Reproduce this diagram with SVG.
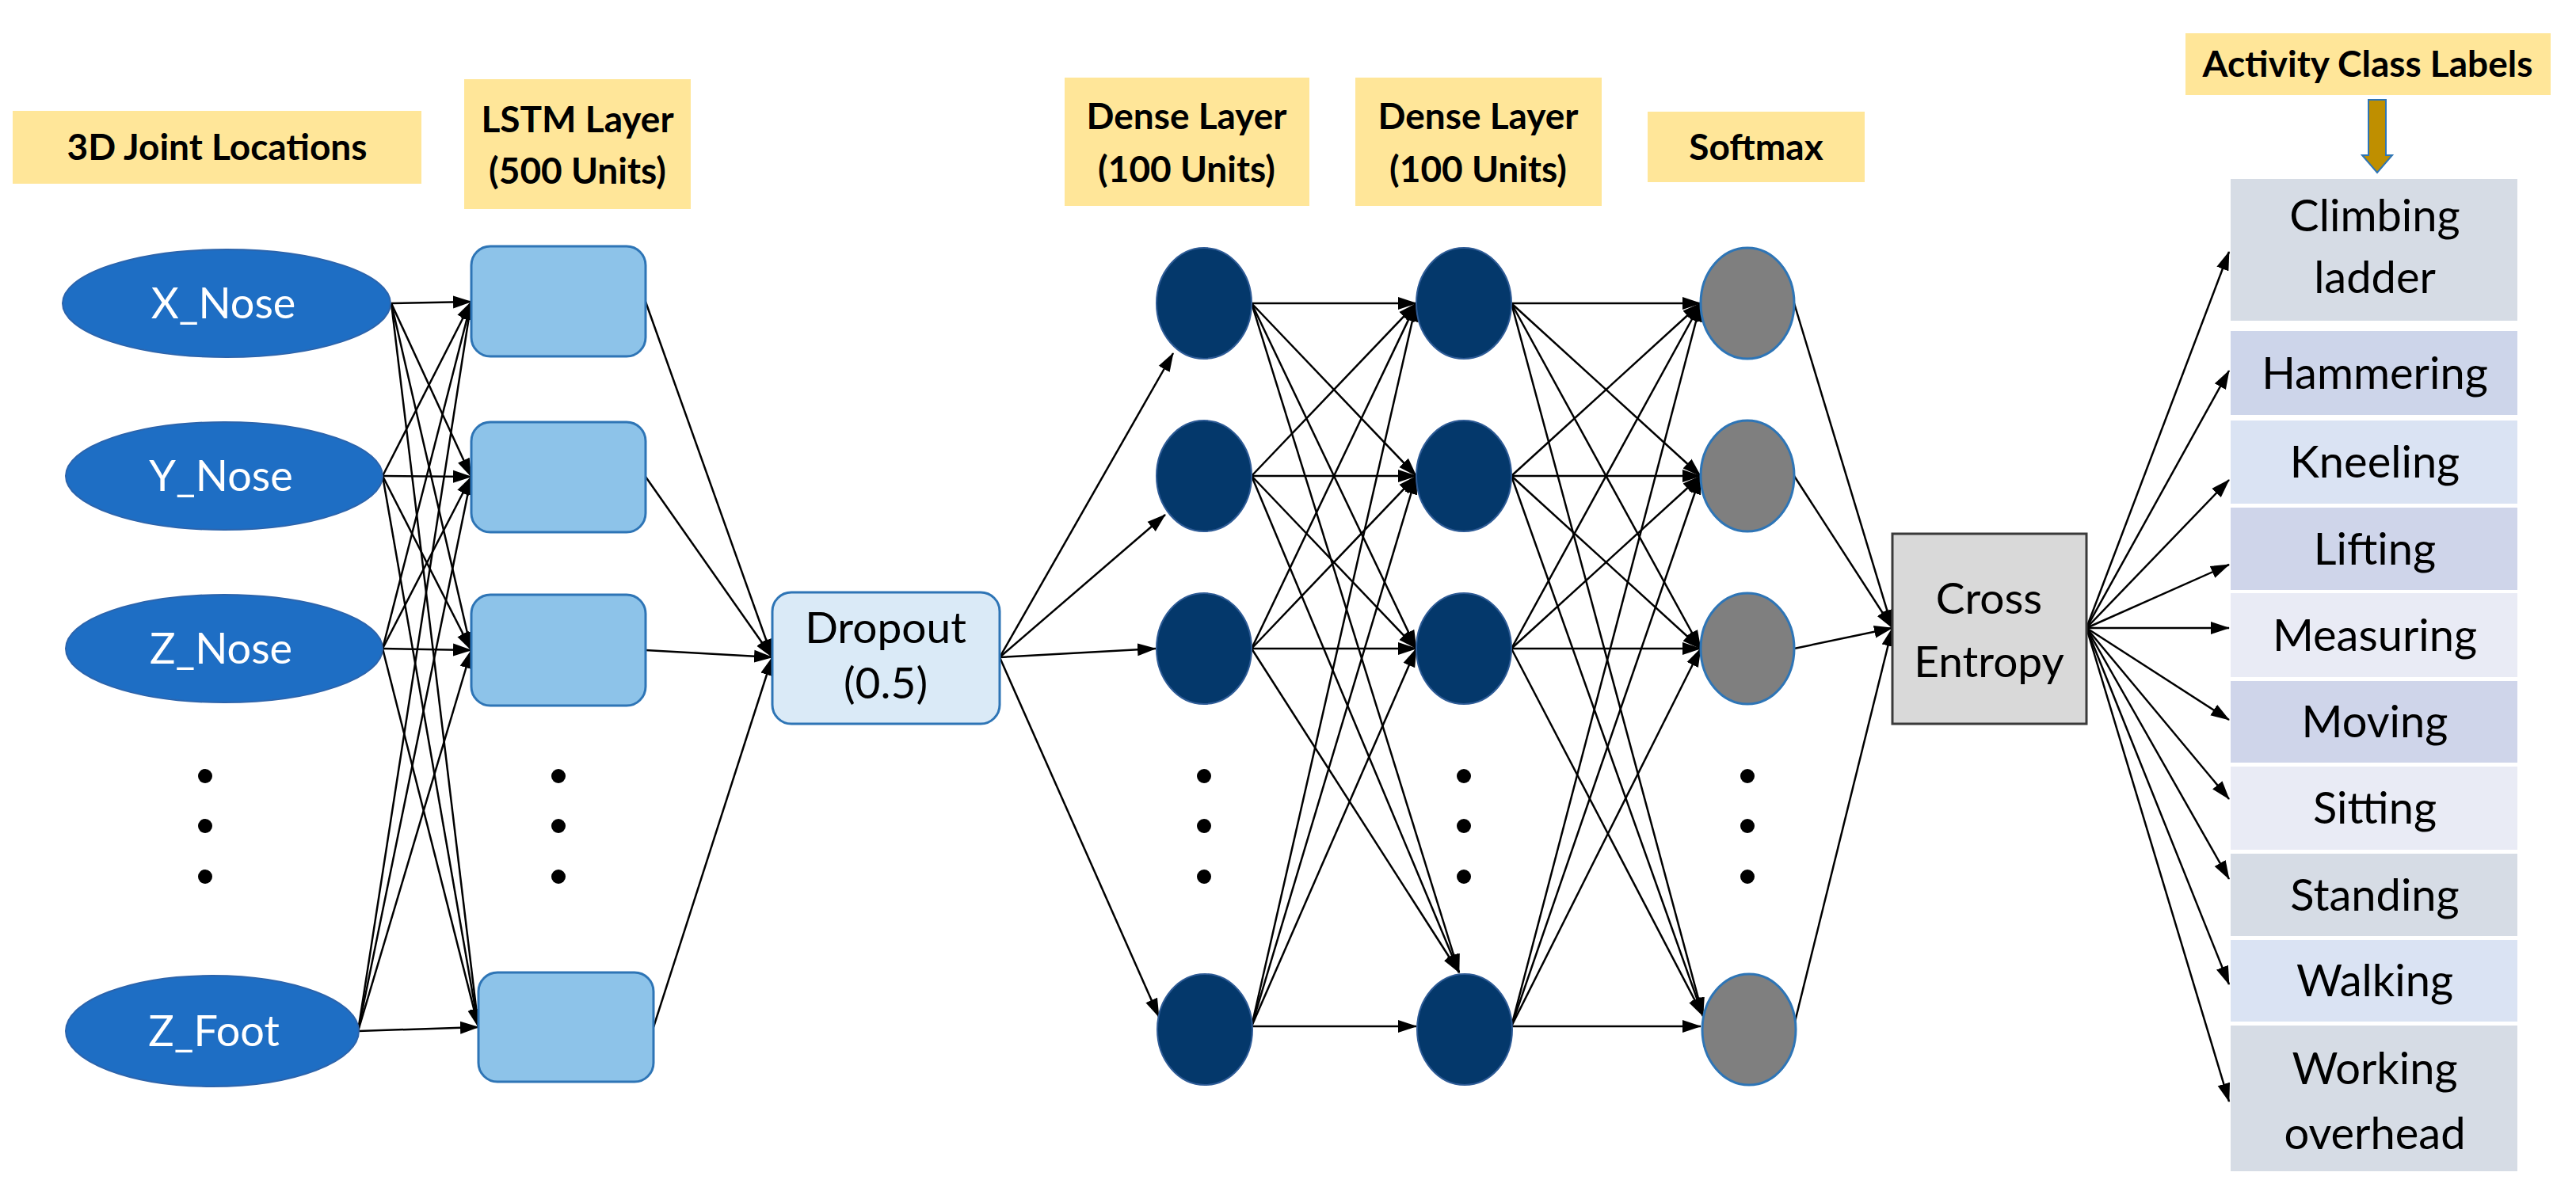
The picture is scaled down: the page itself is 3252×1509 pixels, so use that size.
<svg xmlns="http://www.w3.org/2000/svg" width="3252" height="1509" viewBox="0 0 3252 1509">
<style>
.hdr{fill:#FFE699}
.ht{font-family:Lato,"Liberation Sans",sans-serif;font-weight:700;font-size:46px;text-anchor:middle;fill:#000}
.in{fill:#1E6EC4;stroke:#2C64AC;stroke-width:2}
.it{font-family:Lato,"Liberation Sans",sans-serif;font-size:54px;fill:#fff;text-anchor:middle}
.lstm{fill:#8DC3E9;stroke:#2E75B6;stroke-width:3}
.drop{fill:#DAEAF7;stroke:#2E75B6;stroke-width:3}
.dense{fill:#04386B;stroke:#2E5B96;stroke-width:2}
.soft{fill:#7F7F7F;stroke:#2E75B6;stroke-width:3}
.ce{fill:#D9D9D9;stroke:#3A3A3A;stroke-width:3}
.bt{font-family:Lato,"Liberation Sans",sans-serif;font-size:55px;fill:#000;text-anchor:middle}
.lt{font-family:Lato,"Liberation Sans",sans-serif;font-size:56px;fill:#000;text-anchor:middle}
.dot{fill:#000}
.cn line{stroke:#000;stroke-width:2.5;marker-end:url(#ah)}
</style>
<defs>
<marker id="ah" markerUnits="userSpaceOnUse" markerWidth="24" markerHeight="18" refX="23" refY="8" orient="auto" viewBox="0 0 24 16">
<path d="M0,0 L24,8 L0,16 z" fill="#000"/>
</marker>
</defs>
<rect width="3252" height="1509" fill="#fff"/>

<!-- headers -->
<g id="hdr-input"><rect class="hdr" x="16" y="140" width="516" height="92"/><text class="ht" x="274" y="202">3D Joint Locations</text></g>
<g id="hdr-lstm"><rect class="hdr" x="586" y="100" width="286" height="164"/><text class="ht" x="729" y="167">LSTM Layer</text><text class="ht" x="729" y="232">(500 Units)</text></g>
<g id="hdr-dense1"><rect class="hdr" x="1344" y="98" width="309" height="162"/><text class="ht" x="1498" y="163">Dense Layer</text><text class="ht" x="1498" y="230">(100 Units)</text></g>
<g id="hdr-dense2"><rect class="hdr" x="1711" y="98" width="311" height="162"/><text class="ht" x="1866" y="163">Dense Layer</text><text class="ht" x="1866" y="230">(100 Units)</text></g>
<g id="hdr-softmax"><rect class="hdr" x="2080" y="141" width="274" height="89"/><text class="ht" x="2217" y="202">Softmax</text></g>
<g id="hdr-labels"><rect class="hdr" x="2759" y="42" width="461" height="78"/><text class="ht" x="2989" y="97">Activity Class Labels</text></g>
<g id="gold-arrow"><path d="M2990,126 L3012,126 L3012,196 L3020,196 L3001,218 L2982,196 L2990,196 Z" fill="#BF8F00" stroke="#2E75B6" stroke-width="2"/></g>

<!-- connectors -->
<g id="connectors" class="cn">
<line x1="494" y1="383" x2="595" y2="381"/><line x1="494" y1="383" x2="595" y2="602"/><line x1="494" y1="383" x2="595" y2="821"/><line x1="494" y1="383" x2="604" y2="1297"/>
<line x1="483" y1="601" x2="595" y2="381"/><line x1="483" y1="601" x2="595" y2="602"/><line x1="483" y1="601" x2="595" y2="821"/><line x1="483" y1="601" x2="604" y2="1297"/>
<line x1="483" y1="819" x2="595" y2="381"/><line x1="483" y1="819" x2="595" y2="602"/><line x1="483" y1="819" x2="595" y2="821"/><line x1="483" y1="819" x2="604" y2="1297"/>
<line x1="452" y1="1302" x2="595" y2="381"/><line x1="452" y1="1302" x2="595" y2="602"/><line x1="452" y1="1302" x2="595" y2="821"/><line x1="452" y1="1302" x2="604" y2="1297"/>
<line x1="815" y1="381" x2="975" y2="830"/><line x1="815" y1="602" x2="975" y2="830"/><line x1="815" y1="821" x2="975" y2="830"/><line x1="825" y1="1297" x2="975" y2="830"/>
<line x1="1262" y1="830" x2="1481" y2="446"/><line x1="1262" y1="830" x2="1471" y2="650"/><line x1="1262" y1="830" x2="1459" y2="819"/><line x1="1262" y1="830" x2="1463" y2="1284"/>
<line x1="1580" y1="383" x2="1788" y2="383"/><line x1="1580" y1="383" x2="1788" y2="601"/><line x1="1580" y1="383" x2="1788" y2="819"/><line x1="1580" y1="383" x2="1842" y2="1228"/>
<line x1="1580" y1="601" x2="1788" y2="383"/><line x1="1580" y1="601" x2="1788" y2="601"/><line x1="1580" y1="601" x2="1788" y2="819"/><line x1="1580" y1="601" x2="1842" y2="1228"/>
<line x1="1580" y1="819" x2="1788" y2="383"/><line x1="1580" y1="819" x2="1788" y2="601"/><line x1="1580" y1="819" x2="1788" y2="819"/><line x1="1580" y1="819" x2="1842" y2="1228"/>
<line x1="1580" y1="1296" x2="1788" y2="383"/><line x1="1580" y1="1296" x2="1788" y2="601"/><line x1="1580" y1="1296" x2="1788" y2="819"/><line x1="1580" y1="1296" x2="1788" y2="1296"/>
<line x1="1908" y1="383" x2="2147" y2="383"/><line x1="1908" y1="383" x2="2147" y2="601"/><line x1="1908" y1="383" x2="2147" y2="819"/><line x1="1908" y1="383" x2="2150" y2="1283"/>
<line x1="1908" y1="601" x2="2147" y2="383"/><line x1="1908" y1="601" x2="2147" y2="601"/><line x1="1908" y1="601" x2="2147" y2="819"/><line x1="1908" y1="601" x2="2150" y2="1283"/>
<line x1="1908" y1="819" x2="2147" y2="383"/><line x1="1908" y1="819" x2="2147" y2="601"/><line x1="1908" y1="819" x2="2147" y2="819"/><line x1="1908" y1="819" x2="2150" y2="1283"/>
<line x1="1908" y1="1296" x2="2147" y2="383"/><line x1="1908" y1="1296" x2="2147" y2="601"/><line x1="1908" y1="1296" x2="2147" y2="819"/><line x1="1908" y1="1296" x2="2147" y2="1296"/>
<line x1="2265" y1="383" x2="2389" y2="793"/><line x1="2265" y1="601" x2="2389" y2="793"/><line x1="2265" y1="819" x2="2389" y2="793"/><line x1="2265" y1="1294" x2="2389" y2="793"/>
<line x1="2634" y1="793" x2="2814" y2="318"/><line x1="2634" y1="793" x2="2814" y2="468"/><line x1="2634" y1="793" x2="2814" y2="606"/><line x1="2634" y1="793" x2="2814" y2="713"/><line x1="2634" y1="793" x2="2814" y2="793"/>
<line x1="2634" y1="793" x2="2814" y2="909"/><line x1="2634" y1="793" x2="2814" y2="1009"/><line x1="2634" y1="793" x2="2814" y2="1110"/><line x1="2634" y1="793" x2="2814" y2="1243"/><line x1="2634" y1="793" x2="2814" y2="1391"/>
</g>

<!-- input nodes -->
<g id="in-xnose"><ellipse class="in" cx="286" cy="383" rx="207" ry="68"/><text class="it" x="282" y="402">X_Nose</text></g>
<g id="in-ynose"><ellipse class="in" cx="283" cy="601" rx="200" ry="68"/><text class="it" x="279" y="620">Y_Nose</text></g>
<g id="in-znose"><ellipse class="in" cx="283" cy="819" rx="200" ry="68"/><text class="it" x="279" y="838">Z_Nose</text></g>
<g id="in-dots"><circle class="dot" cx="259" cy="980" r="9"/><circle class="dot" cx="259" cy="1043" r="9"/><circle class="dot" cx="259" cy="1107" r="9"/></g>
<g id="in-zfoot"><ellipse class="in" cx="268" cy="1302" rx="185" ry="70"/><text class="it" x="270" y="1321">Z_Foot</text></g>

<!-- lstm -->
<g id="lstm-1"><rect class="lstm" x="595" y="311" width="220" height="139" rx="24"/></g>
<g id="lstm-2"><rect class="lstm" x="595" y="533" width="220" height="139" rx="24"/></g>
<g id="lstm-3"><rect class="lstm" x="595" y="751" width="220" height="140" rx="24"/></g>
<g id="lstm-dots"><circle class="dot" cx="705" cy="980" r="9"/><circle class="dot" cx="705" cy="1043" r="9"/><circle class="dot" cx="705" cy="1107" r="9"/></g>
<g id="lstm-4"><rect class="lstm" x="604" y="1228" width="221" height="138" rx="24"/></g>

<!-- dropout -->
<g id="dropout"><rect class="drop" x="975" y="748" width="287" height="166" rx="24"/><text class="bt" x="1118" y="812">Dropout</text><text class="bt" x="1118" y="882">(0.5)</text></g>

<!-- dense 1 -->
<g id="d1-1"><ellipse class="dense" cx="1520" cy="383" rx="60" ry="70"/></g>
<g id="d1-2"><ellipse class="dense" cx="1520" cy="601" rx="60" ry="70"/></g>
<g id="d1-3"><ellipse class="dense" cx="1520" cy="819" rx="60" ry="70"/></g>
<g id="d1-dots"><circle class="dot" cx="1520" cy="980" r="9"/><circle class="dot" cx="1520" cy="1043" r="9"/><circle class="dot" cx="1520" cy="1107" r="9"/></g>
<g id="d1-4"><ellipse class="dense" cx="1521" cy="1300" rx="60" ry="70"/></g>

<!-- dense 2 -->
<g id="d2-1"><ellipse class="dense" cx="1848" cy="383" rx="60" ry="70"/></g>
<g id="d2-2"><ellipse class="dense" cx="1848" cy="601" rx="60" ry="70"/></g>
<g id="d2-3"><ellipse class="dense" cx="1848" cy="819" rx="60" ry="70"/></g>
<g id="d2-dots"><circle class="dot" cx="1848" cy="980" r="9"/><circle class="dot" cx="1848" cy="1043" r="9"/><circle class="dot" cx="1848" cy="1107" r="9"/></g>
<g id="d2-4"><ellipse class="dense" cx="1849" cy="1300" rx="60" ry="70"/></g>

<!-- softmax -->
<g id="sm-1"><ellipse class="soft" cx="2206" cy="383" rx="59" ry="70"/></g>
<g id="sm-2"><ellipse class="soft" cx="2206" cy="601" rx="59" ry="70"/></g>
<g id="sm-3"><ellipse class="soft" cx="2206" cy="819" rx="59" ry="70"/></g>
<g id="sm-dots"><circle class="dot" cx="2206" cy="980" r="9"/><circle class="dot" cx="2206" cy="1043" r="9"/><circle class="dot" cx="2206" cy="1107" r="9"/></g>
<g id="sm-4"><ellipse class="soft" cx="2208" cy="1300" rx="59" ry="70"/></g>

<!-- cross entropy -->
<g id="cross-entropy"><rect class="ce" x="2389" y="674" width="245" height="240"/><text class="bt" x="2511" y="775">Cross</text><text class="bt" x="2511" y="855">Entropy</text></g>

<!-- activity labels -->
<g id="lbl-climbing"><rect x="2816" y="226" width="362" height="179" fill="#D6DCE5"/><text class="lt" x="2998" y="292">Climbing</text><text class="lt" x="2998" y="370">ladder</text></g>
<g id="lbl-hammering"><rect x="2816" y="418" width="362" height="106" fill="#CDD5EA"/><text class="lt" x="2998" y="491">Hammering</text></g>
<g id="lbl-kneeling"><rect x="2816" y="531" width="362" height="105" fill="#DAE3F3"/><text class="lt" x="2998" y="603">Kneeling</text></g>
<g id="lbl-lifting"><rect x="2816" y="641" width="362" height="104" fill="#CFD5EA"/><text class="lt" x="2998" y="713">Lifting</text></g>
<g id="lbl-measuring"><rect x="2816" y="749" width="362" height="106" fill="#E9EBF5"/><text class="lt" x="2998" y="822">Measuring</text></g>
<g id="lbl-moving"><rect x="2816" y="860" width="362" height="103" fill="#CFD5EA"/><text class="lt" x="2998" y="931">Moving</text></g>
<g id="lbl-sitting"><rect x="2816" y="968" width="362" height="105" fill="#E9EBF5"/><text class="lt" x="2998" y="1040">Sitting</text></g>
<g id="lbl-standing"><rect x="2816" y="1078" width="362" height="104" fill="#D6DCE5"/><text class="lt" x="2998" y="1150">Standing</text></g>
<g id="lbl-walking"><rect x="2816" y="1187" width="362" height="103" fill="#DAE3F3"/><text class="lt" x="2998" y="1258">Walking</text></g>
<g id="lbl-working"><rect x="2816" y="1295" width="362" height="184" fill="#D6DCE5"/><text class="lt" x="2998" y="1369">Working</text><text class="lt" x="2998" y="1451">overhead</text></g>
</svg>
